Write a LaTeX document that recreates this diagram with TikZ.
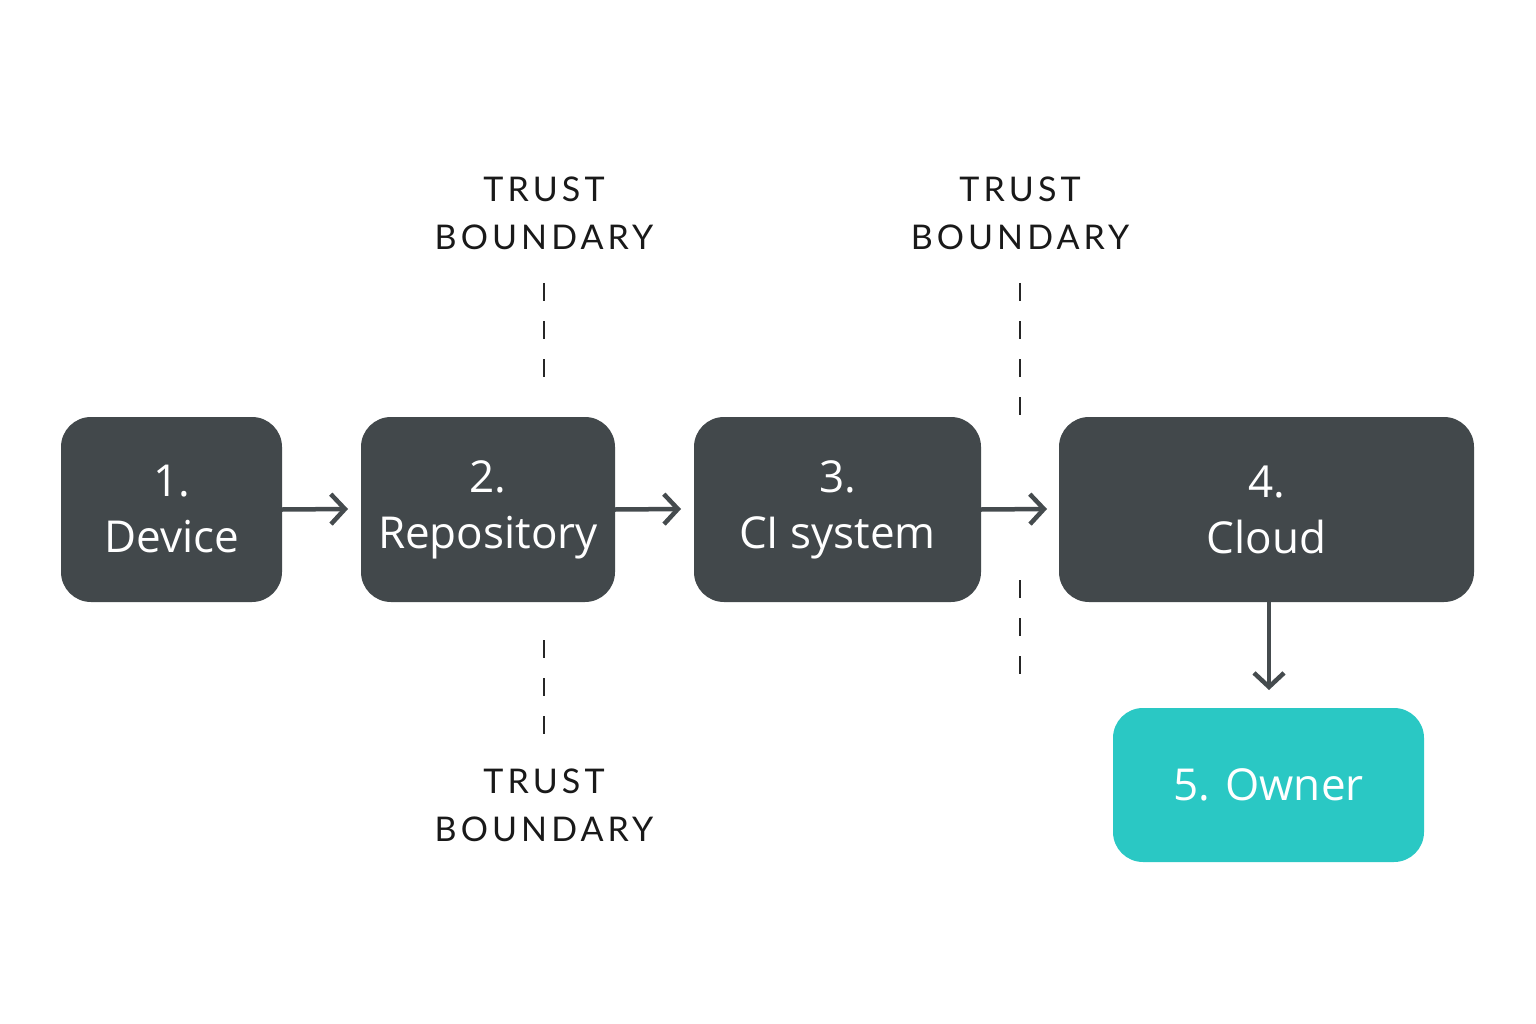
\documentclass[tikz,border=0pt]{standalone}
\usepackage{fontspec}
\setmainfont{Open Sans}
\newfontfamily\lbl[LetterSpace=12]{Lato}
\usetikzlibrary{arrows.meta}
\definecolor{dark}{HTML}{42484B}
\definecolor{teal}{HTML}{2AC8C4}
\definecolor{ln}{HTML}{454B4E}
\begin{document}
\begin{tikzpicture}[x=1pt,y=-1pt,
 box/.style={fill=dark,rounded corners=30pt,minimum height=185pt,text=white,align=center,font=\fontsize{44}{56}\selectfont,inner sep=0pt},
 arr/.style={draw=ln,line width=4.5pt,-{Straight Barb[length=14pt,width=30pt,line width=4.5pt]}},
 dsh/.style={draw=black!85,line width=2.5pt,dash pattern=on 18pt off 20pt},
 tb/.style={align=center,font=\lbl\fontsize{34}{48}\selectfont,text=black!90}]
\useasboundingbox (0,0) rectangle (1536,1024);
\node[box,minimum width=221pt] (b1) at (171.5,509.5) {1.\\Device};
\node[box,minimum width=254pt] (b2) at (488,509.5) {2.\\Repository};
\node[box,minimum width=287pt] (b3) at (837.5,509.5) {3.\\CI system};
\node[box,minimum width=415pt] (b4) at (1266.5,509.5) {4.\\Cloud};
\node[box,fill=teal,minimum width=311pt,minimum height=154pt] (b5) at (1268.5,785) {5. Owner};
\coordinate (a1) at (348,509); \coordinate (a2) at (681,509); \coordinate (a3) at (1047,509); \coordinate (a4) at (1269,690);
\draw[arr] (b1.east) -- (a1);
\draw[arr] (b2.east) -- (a2);
\draw[arr] (b3.east) -- (a3);
\draw[arr] (b4.south -| a4) -- (a4);
\coordinate (d1) at (544,283); \coordinate (d2) at (544,385);
\coordinate (d3) at (544,640); \coordinate (d4) at (544,742);
\coordinate (d5) at (1020,283); \coordinate (d6) at (1020,422);
\coordinate (d7) at (1020,580); \coordinate (d8) at (1020,682);
\draw[dsh] (d1)--(d2); \draw[dsh] (d3)--(d4); \draw[dsh] (d5)--(d6); \draw[dsh] (d7)--(d8);
\node[tb] (t1) at (544,213) {TRUST\\BOUNDARY};
\node[tb] (t2) at (1020,213) {TRUST\\BOUNDARY};
\node[tb] (t3) at (544,805) {TRUST\\BOUNDARY};
\end{tikzpicture}
\end{document}
